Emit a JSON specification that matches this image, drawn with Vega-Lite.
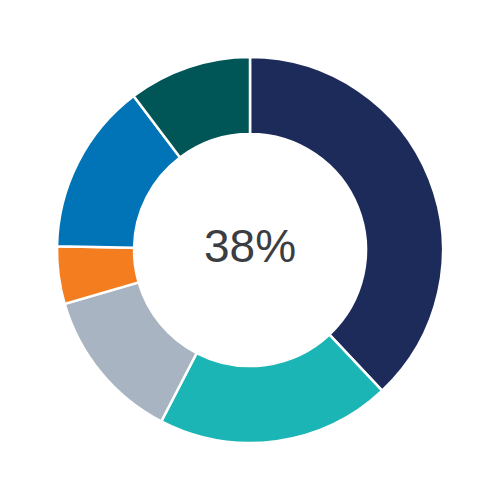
{
  "$schema": "https://vega.github.io/schema/vega-lite/v6.json",
  "width": 500,
  "height": 500,
  "padding": 0,
  "autosize": {"type": "fit", "contains": "padding"},
  "background": "white",
  "view": {"stroke": null},
  "layer": [
    {
      "data": {
        "values": [
          {"segment": "A", "idx": 1, "share": 38.0},
          {"segment": "B", "idx": 2, "share": 19.6},
          {"segment": "C", "idx": 3, "share": 12.9},
          {"segment": "D", "idx": 4, "share": 4.8},
          {"segment": "E", "idx": 5, "share": 14.4},
          {"segment": "F", "idx": 6, "share": 10.3}
        ]
      },
      "mark": {"type": "arc", "outerRadius": 193, "innerRadius": 116, "stroke": "white", "strokeWidth": 2.5},
      "encoding": {
        "theta": {"field": "share", "type": "quantitative", "stack": true},
        "order": {"field": "idx", "type": "quantitative"},
        "color": {
          "field": "segment",
          "type": "nominal",
          "legend": null,
          "scale": {
            "domain": ["A", "B", "C", "D", "E", "F"],
            "range": ["#1c2b5a", "#1cb5b5", "#a9b4c2", "#f47d20", "#0074b7", "#005556"]
          }
        }
      }
    },
    {
      "data": {"values": [{"label": "38%"}]},
      "mark": {"type": "text", "font": "Liberation Sans", "fontSize": 46, "color": "#3b3d42", "align": "center", "baseline": "middle", "dy": -2},
      "encoding": {
        "text": {"field": "label", "type": "nominal"}
      }
    }
  ]
}
